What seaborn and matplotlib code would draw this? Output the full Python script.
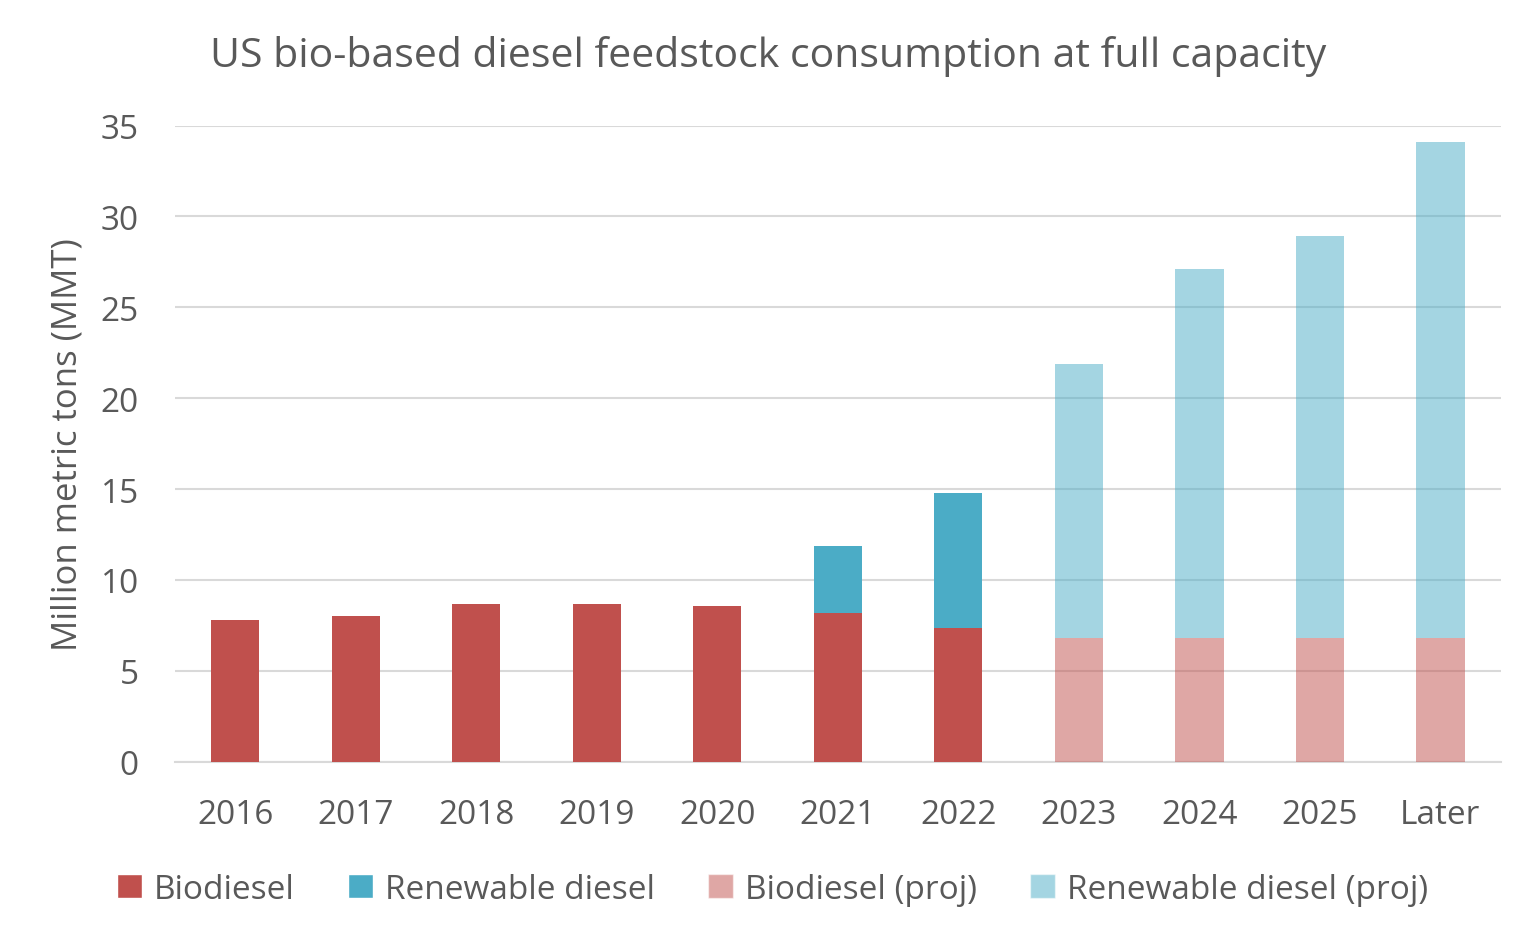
import matplotlib
matplotlib.use("Agg")
import matplotlib.pyplot as plt
from matplotlib.patches import Patch
import seaborn as sns
import numpy as np

years = ["2016", "2017", "2018", "2019", "2020", "2021", "2022", "2023", "2024", "2025", "Later"]
biodiesel = [7.8, 8.0, 8.65, 8.7, 8.55, 8.2, 7.35, 0, 0, 0, 0]
renewable = [0, 0, 0, 0, 0, 3.65, 7.45, 0, 0, 0, 0]
biodiesel_proj = [0, 0, 0, 0, 0, 0, 0, 6.8, 6.8, 6.8, 6.8]
renewable_proj = [0, 0, 0, 0, 0, 0, 0, 15.1, 20.3, 22.1, 27.3]

series_names = ["Biodiesel", "Renewable diesel", "Biodiesel (proj)", "Renewable diesel (proj)"]
series_colors = ["#C0504D", "#4BACC6", "#C0504D", "#4BACC6"]
series_alpha = [1.0, 1.0, 0.5, 0.5]

sns.set_style("white")
plt.rcParams["font.family"] = ["Open Sans", "DejaVu Sans"]
grey = "#595959"

fig = plt.figure(figsize=(15.36, 9.45), dpi=100)
ax = fig.add_axes([0.114, 0.193, 0.863, 0.673])

bottom = np.zeros(len(years))
for vals, col, a in zip([biodiesel, renewable, biodiesel_proj, renewable_proj],
                        series_colors, series_alpha):
    sns.barplot(x=years, y=vals, bottom=bottom, color=col, alpha=a,
                saturation=1, width=0.4, linewidth=0, ax=ax, zorder=3)
    bottom = bottom + np.array(vals)

ax.set_ylim(0, 35)
ax.set_yticks(range(0, 36, 5))
ax.grid(axis="y", color="#D9D9D9", linewidth=1.5, zorder=0)
ax.set_axisbelow(True)
for s in ["top", "right", "left"]:
    ax.spines[s].set_visible(False)
ax.spines["bottom"].set_color("#D9D9D9")
ax.spines["bottom"].set_linewidth(1.5)
ax.tick_params(axis="both", length=0, labelsize=24, colors=grey)
ax.tick_params(axis="x", pad=26)
ax.tick_params(axis="y", pad=26)
ax.set_xlim(-0.5, len(years) - 0.5)
ax.set_ylabel("Million metric tons (MMT)", fontsize=25, color=grey, labelpad=12)
ax.set_xlabel("")

fig.text(0.5, 0.94, "US bio-based diesel feedstock consumption at full capacity",
         ha="center", va="center", fontsize=29.5, color=grey)

handles = [Patch(facecolor=c, alpha=a, label=n)
           for n, c, a in zip(series_names, series_colors, series_alpha)]
fig.legend(handles=handles, loc="center", bbox_to_anchor=(0.503, 0.058), ncol=4,
           frameon=False, fontsize=24, labelcolor=grey, handlelength=0.75,
           handleheight=0.75, handletextpad=0.35, columnspacing=1.6)

fig.savefig("out.png", dpi=100)
